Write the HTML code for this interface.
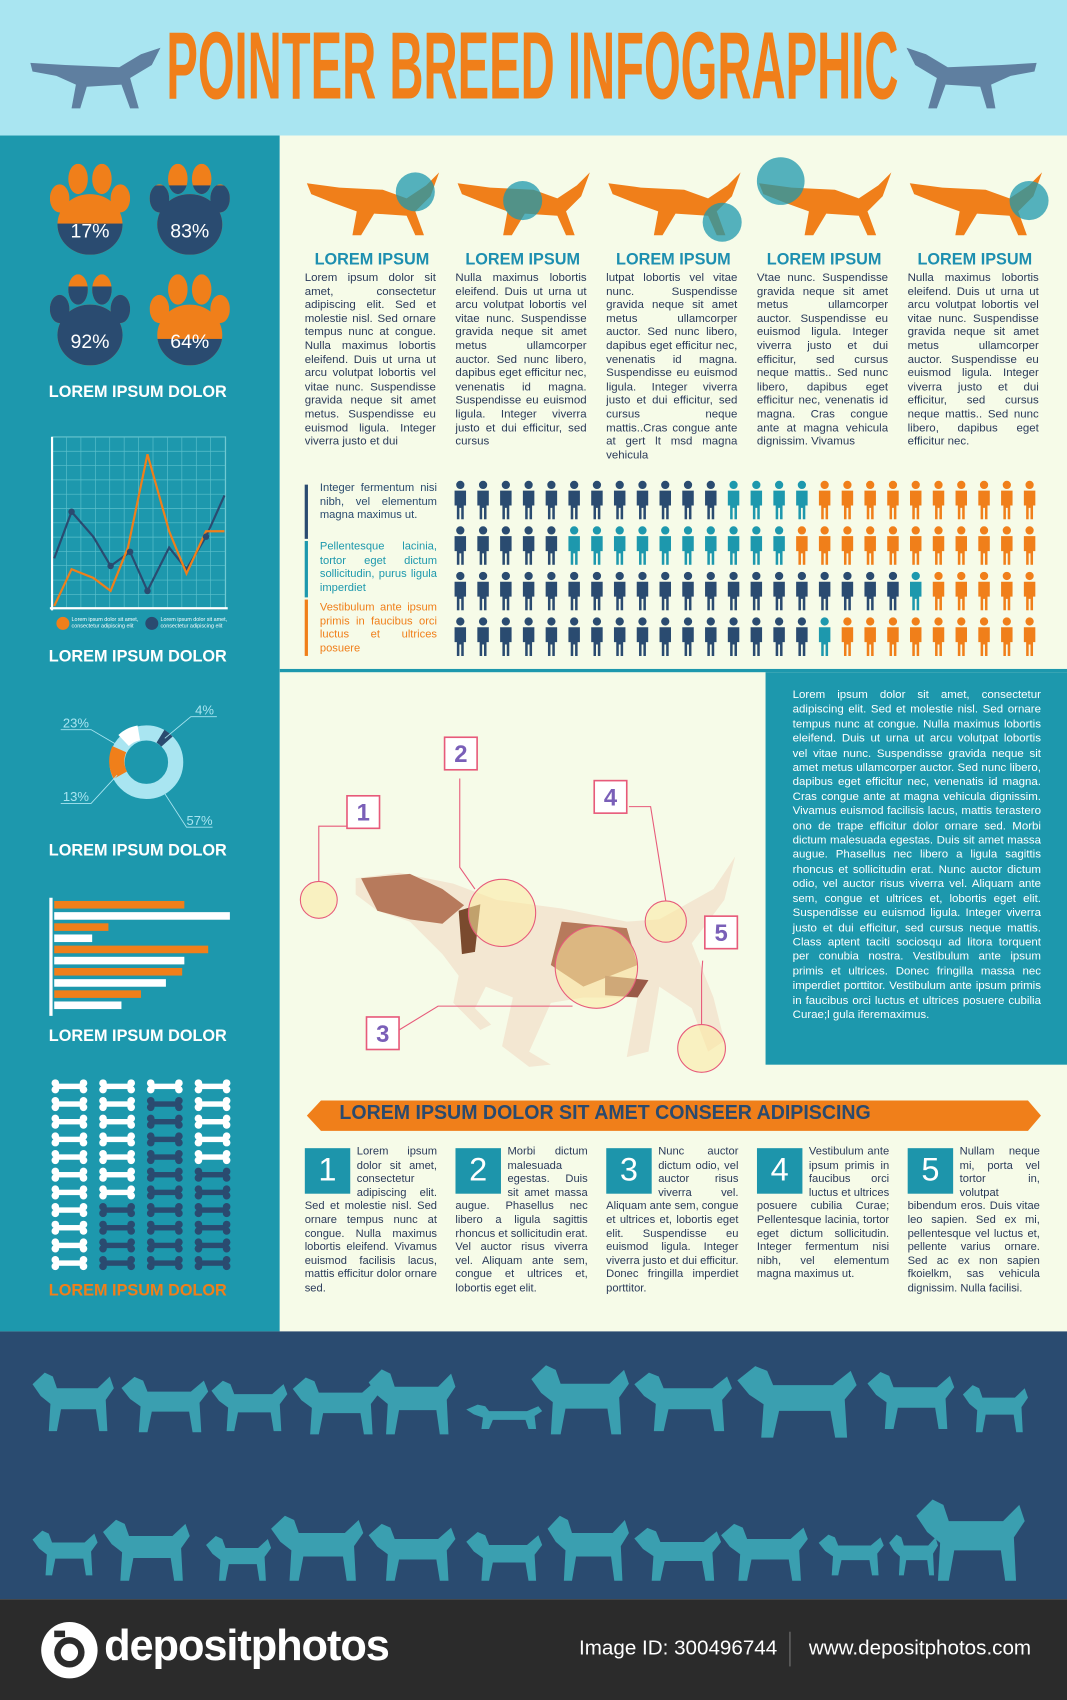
<!DOCTYPE html>
<html><head><meta charset="utf-8"><style>
html,body{margin:0;padding:0;width:1067px;height:1700px;overflow:hidden;background:#fff}
#w{position:absolute;left:0;top:0;width:984px;height:1568px;transform:scale(1.08435,1.0842);transform-origin:0 0;font-family:"Liberation Sans",sans-serif}
.a{position:absolute}
.p{position:absolute;font-size:10.3px;line-height:12.6px;color:#2a3a5a;text-align:justify}
.sl{position:absolute;left:45px;font-size:15px;font-weight:bold;color:#fff;white-space:nowrap}
.num{float:left;width:42px;height:42px;margin:2px 6px 2px 0;background:#1d95ab;color:#fff;font-size:30px;text-align:center;line-height:42px}
</style></head><body><div id="w">
<div class="a" style="left:0;top:0;width:984px;height:125px;background:#a9e5f1"></div>
<div class="a" style="left:-500px;top:10px;width:1984px;text-align:center;white-space:nowrap;font-weight:bold;font-size:88px;color:#f07f1a;transform:scaleX(0.495);transform-origin:990px 0">POINTER BREED INFOGRAPHIC</div>
<svg class="a" style="left:0;top:0" width="984" height="125">
<g fill="#5f7fa0"><path d="M28 58 L60 60 L110 62 L130 50 L148 44 L140 60 L120 72 L128 100 L120 100 L112 78 L80 80 L74 100 L66 100 L70 78 L52 70 L30 66Z"/>
<path d="M956 58 L924 60 L874 62 L854 50 L836 44 L844 60 L864 72 L856 100 L864 100 L872 78 L904 80 L910 100 L918 100 L914 78 L932 70 L954 66Z"/></g></svg>
<div class="a" style="left:0;top:125px;width:258px;height:1103px;background:#1d98ad"></div>
<div class="a" style="left:258px;top:125px;width:726px;height:1103px;background:#f6fbe8"></div>
<div class="a" style="left:258px;top:617px;width:726px;height:3px;background:#1d98ad"></div>
<div class="a" style="left:706px;top:620px;width:278px;height:362px;background:#1d98ad"></div>
<svg class="a" style="left:0;top:125px" width="258" height="1103" id="side"></svg>
<div class="sl" style="top:353px">LOREM IPSUM DOLOR</div>
<div class="sl" style="top:597px">LOREM IPSUM DOLOR</div>
<div class="sl" style="top:776px">LOREM IPSUM DOLOR</div>
<div class="sl" style="top:947px">LOREM IPSUM DOLOR</div>
<div class="sl" style="top:1182px;color:#f07f1a">LOREM IPSUM DOLOR</div>
<svg class="a" style="left:258px;top:125px" width="726" height="1103" id="main"></svg>
<div id="cols"></div>
<div class="p" style="left:295px;top:445px;width:108px;color:#2a4a6e">Integer fermentum nisi nibh, vel elementum magna maximus ut.</div>
<div class="p" style="left:295px;top:499px;width:108px;color:#1d98ad">Pellentesque lacinia, tortor eget dictum sollicitudin, purus ligula imperdiet</div>
<div class="p" style="left:295px;top:555px;width:108px;color:#f07f1a">Vestibulum ante ipsum primis in faucibus orci luctus et ultrices posuere</div>
<div class="p" style="left:731px;top:635px;width:229px;color:#fff;font-size:10.6px;line-height:13.4px">Lorem ipsum dolor sit amet, consectetur adipiscing elit. Sed et molestie nisl. Sed ornare tempus nunc at congue. Nulla maximus lobortis eleifend. Duis ut urna ut arcu volutpat lobortis vel vitae nunc. Suspendisse gravida neque sit amet metus ullamcorper auctor. Sed nunc libero, dapibus eget efficitur nec, venenatis id magna. Cras congue ante at magna vehicula dignissim. Vivamus euismod facilisis lacus, mattis terastero ono de trape efficitur dolor ornare sed. Morbi dictum malesuada egestas. Duis sit amet massa augue. Phasellus nec libero a ligula sagittis rhoncus et sollicitudin erat. Nunc auctor dictum odio, vel auctor risus viverra vel. Aliquam ante sem, congue et ultrices et, lobortis eget elit. Suspendisse eu euismod ligula. Integer viverra justo et dui efficitur, sed cursus neque mattis. Class aptent taciti sociosqu ad litora torquent per conubia nostra. Vestibulum ante ipsum primis et ultrices. Donec fringilla massa nec imperdiet porttitor. Vestibulum ante ipsum primis in faucibus orci luctus et ultrices posuere cubilia Curae;l gula iferemaximus.</div>
<div class="a" style="left:313px;top:1016px;font-size:19px;font-weight:bold;color:#2a4a6e;white-space:nowrap;transform:scaleX(0.95);transform-origin:0 0">LOREM IPSUM DOLOR SIT AMET CONSEER ADIPISCING</div>
<div id="nums"></div>
<div class="a" style="left:0;top:1228px;width:984px;height:247px;background:#2a4b70"></div>
<svg class="a" style="left:0;top:1228px" width="984" height="247" id="dogs"></svg>
<div class="a" style="left:0;top:1475px;width:984px;height:93px;background:#2b2b2b"></div>
<svg class="a" style="left:36px;top:1494px" width="56" height="56"><circle cx="28" cy="28" r="26" fill="#fff"/><circle cx="28" cy="30" r="14" fill="#2b2b2b"/><circle cx="28" cy="30" r="8" fill="#fff"/><rect x="14" y="10" width="10" height="6" fill="#2b2b2b"/></svg>
<div class="a" style="left:96px;top:1496px;font-size:40px;font-weight:bold;color:#fff;letter-spacing:-1px">depositphotos</div>
<div class="a" style="left:534px;top:1510px;font-size:19px;color:#fff">Image ID: 300496744</div>
<div class="a" style="left:728px;top:1505px;width:1px;height:32px;background:#777"></div>
<div class="a" style="left:746px;top:1510px;font-size:19px;color:#fff">www.depositphotos.com</div>
</div>
<script>
function S(svg,html){document.getElementById(svg).insertAdjacentHTML('beforeend',html);}
var paws=[[83,60,"17%",0.35],[175,60,"83%",0.75],[83,162,"92%",0.85],[175,162,"64%",0.3]];
var s="";
paws.forEach(function(p){var x=p[0],y=p[1];
 s+='<clipPath id="c'+x+y+'"><ellipse cx="'+x+'" cy="'+(y+22)+'" rx="30" ry="28"/><ellipse cx="'+(x-28)+'" cy="'+(y-2)+'" rx="9" ry="13"/><ellipse cx="'+(x-11)+'" cy="'+(y-20)+'" rx="9" ry="14"/><ellipse cx="'+(x+11)+'" cy="'+(y-20)+'" rx="9" ry="14"/><ellipse cx="'+(x+28)+'" cy="'+(y-2)+'" rx="9" ry="13"/></clipPath>';
 var tp=y-36, h=88, cut=tp+h*(1-p[3]);
 s+='<g clip-path="url(#c'+x+y+')"><rect x="'+(x-40)+'" y="'+tp+'" width="80" height="'+h+'" fill="#f07f1a"/><rect x="'+(x-40)+'" y="'+cut+'" width="80" height="'+(tp+h-cut)+'" fill="#2a4b70"/></g>';
 s+='<text x="'+x+'" y="'+(y+34)+'" fill="#fff" font-size="18" text-anchor="middle">'+p[2]+'</text>';});
s+='<rect x="48" y="278" width="160" height="158" fill="none" stroke="#7fd0d8"/>';
for(var i=0;i<=12;i++){s+='<line x1="'+(48+i*13.3)+'" y1="278" x2="'+(48+i*13.3)+'" y2="436" stroke="#5cc0cc" stroke-width="0.6"/>';}
for(var i=0;i<=12;i++){s+='<line x1="48" y1="'+(278+i*13.2)+'" x2="208" y2="'+(278+i*13.2)+'" stroke="#5cc0cc" stroke-width="0.6"/>';}
s+='<line x1="48" y1="278" x2="48" y2="438" stroke="#fff" stroke-width="2"/><line x1="46" y1="436" x2="210" y2="436" stroke="#fff" stroke-width="2"/>';
s+='<polyline points="50,390 66,347 86,370 102,397 120,384 136,420 156,380 172,400 190,370 207,332" fill="none" stroke="#2a4b70" stroke-width="2"/>';
s+='<polyline points="50,434 66,400 86,408 102,420 118,380 136,294 156,365 172,404 190,365 207,365" fill="none" stroke="#f07f1a" stroke-width="2"/>';
[[66,347],[102,397],[120,384],[136,420],[190,370]].forEach(function(q){s+='<circle cx="'+q[0]+'" cy="'+q[1]+'" r="3" fill="#2a4b70"/>';});
s+='<circle cx="58" cy="450" r="6" fill="#f07f1a"/><circle cx="140" cy="450" r="6" fill="#2a4b70"/><text x="66" y="448" font-size="5" fill="#fff">Lorem ipsum dolor sit amet,</text><text x="66" y="454" font-size="5" fill="#fff">consectetur adipiscing elit</text><text x="148" y="448" font-size="5" fill="#fff">Lorem ipsum dolor sit amet,</text><text x="148" y="454" font-size="5" fill="#fff">consectetur adipiscing elit</text>';
s+='<circle cx="135" cy="578" r="27" fill="none" stroke="#a9e5f1" stroke-width="14"/>';
s+='<path d="M110 566 A27 27 0 0 0 111 590" fill="none" stroke="#f07f1a" stroke-width="14"/><path d="M114 558 A27 27 0 0 1 128 551" fill="none" stroke="#fff" stroke-width="14"/><path d="M148 554 A27 27 0 0 1 154 559" fill="none" stroke="#2a4b70" stroke-width="14"/>';
s+='<g fill="#a9e5f1" font-size="12"><text x="58" y="546">23%</text><text x="180" y="534">4%</text><text x="58" y="614">13%</text><text x="172" y="636">57%</text></g><g stroke="#a9e5f1" fill="none" stroke-width="0.8"><polyline points="56,548 84,548 108,562"/><polyline points="200,536 176,536 152,556"/><polyline points="56,616 84,616 108,590"/><polyline points="196,638 172,638 150,604"/></g>';
s+='<line x1="47" y1="703" x2="47" y2="812" stroke="#fff" stroke-width="3"/>';
var bars=[[170,"#f07f1a"],[212,"#fff"],[100,"#f07f1a"],[85,"#fff"],[192,"#f07f1a"],[170,"#fff"],[168,"#f07f1a"],[153,"#fff"],[130,"#f07f1a"],[112,"#fff"]];
bars.forEach(function(b,i){s+='<rect x="50" y="'+(706+i*10.3)+'" width="'+(b[0]-50)+'" height="7" fill="'+b[1]+'"/>';});
var bc=[[1,1,1,1,1,1,1,1,1,1,1],[1,1,1,1,1,1,1,0,0,0,0],[1,0,0,0,0,0,0,0,0,0,0],[1,1,1,1,1,0,0,0,0,0,0]];
for(var c=0;c<4;c++)for(var r=0;r<11;r++){var x=48+c*44,y=877+r*16.3,col=bc[c][r]?"#fff":"#2a4b70";
 s+='<g fill="'+col+'"><rect x="'+(x+4)+'" y="'+(y-2.5)+'" width="24" height="5"/><circle cx="'+(x+3)+'" cy="'+(y-3)+'" r="3.5"/><circle cx="'+(x+3)+'" cy="'+(y+3)+'" r="3.5"/><circle cx="'+(x+29)+'" cy="'+(y-3)+'" r="3.5"/><circle cx="'+(x+29)+'" cy="'+(y+3)+'" r="3.5"/></g>';}
S("side",s);
var m="";
for(var k=0;k<5;k++){var ox=25+k*139;
 m+='<path transform="translate('+ox+',0)" d="M0 44 L30 48 L70 50 L92 58 L110 46 L122 34 L114 56 L100 70 L108 92 L100 92 L92 74 L62 72 L50 92 L42 92 L46 70 L24 62 L4 54Z" fill="#f07f1a"/>';
 var cx=[[100,52],[60,60],[105,80],[20,42],[110,60]][k];
 m+='<circle cx="'+(ox+cx[0])+'" cy="'+cx[1]+'" r="'+(k==3?22:18)+'" fill="#1d98ad" opacity="0.75"/>';
 m+='<text x="'+(ox+60)+'" y="119" font-family="Liberation Sans" font-weight="bold" font-size="15" fill="#1d8fb0" text-anchor="middle">LOREM IPSUM</text>';}
m+='<rect x="23" y="322" width="3" height="50" fill="#2a4b70"/><rect x="23" y="374" width="3" height="52" fill="#1d98ad"/><rect x="23" y="428" width="3" height="52" fill="#f07f1a"/>';
var rows=[[12,4],[5,10],[20,1],[16,1]];
m+='<symbol id="pp" viewBox="0 0 12 34"><circle cx="6" cy="4" r="3.6"/><path d="M1 9 H11 V22 H9 V34 H6.8 V24 H5.2 V34 H3 V22 H1Z"/></symbol>';
for(var r=0;r<4;r++)for(var i=0;i<26;i++){var col=i<rows[r][0]?"#2a4b70":(i<rows[r][0]+rows[r][1]?"#1d98ad":"#f07f1a");
 m+='<use href="#pp" x="'+(160+i*21)+'" y="'+(318+r*42)+'" width="13" height="36" fill="'+col+'"/>';}
m+='<g transform="translate(0,495)">';
m+='<path d="M70 190 L110 185 L160 195 L200 210 L260 218 L320 230 L350 228 L400 200 L420 170 L410 210 L380 250 L400 300 L410 340 L395 350 L380 310 L350 290 L340 350 L320 355 L330 300 L280 300 L250 305 L230 350 L250 362 L230 364 L205 345 L215 300 L190 290 L180 310 L195 325 L185 330 L160 305 L165 280 L150 260 L120 230 L90 220 L70 205Z" fill="#f3e7d2"/>';
m+='<path d="M75 190 L120 186 L150 200 L170 215 L150 232 L120 228 L90 220Z" fill="#b77a5c"/><path d="M260 230 L320 236 L330 270 L280 290 L250 270Z" fill="#b77a5c"/><path d="M165 220 L185 214 L180 258 L168 260Z" fill="#7a4a2e"/><path d="M300 280 L340 284 L330 300 L300 298Z" fill="#9a5a48"/>';
m+='<g fill="#fbe9a0" fill-opacity="0.55" stroke="#e75a7a" stroke-width="1"><circle cx="36" cy="210" r="17"/><circle cx="205" cy="222" r="31"/><circle cx="292" cy="272" r="38"/><circle cx="356" cy="230" r="19"/><circle cx="389" cy="347" r="22"/></g>';
m+='<g fill="none" stroke="#e75a7a" stroke-width="1"><polyline points="36,193 36,142 62,142"/><polyline points="180,200 166,180 166,98"/><polyline points="356,211 342,124 322,124"/><polyline points="270,308 146,308 110,330"/><polyline points="389,325 389,280 390,266"/></g>';
m+='<g fill="#fff" stroke="#e75a7a" stroke-width="1.5"><rect x="62" y="114" width="30" height="30"/><rect x="152" y="60" width="30" height="30"/><rect x="290" y="100" width="30" height="30"/><rect x="80" y="318" width="30" height="30"/><rect x="392" y="225" width="30" height="30"/></g>';
m+='<g fill="#7a5fb8" font-size="22" font-weight="bold" font-family="Liberation Sans" text-anchor="middle"><text x="77" y="137">1</text><text x="167" y="83">2</text><text x="305" y="123">4</text><text x="95" y="341">3</text><text x="407" y="248">5</text></g></g>';
m+='<path d="M38 890 L25 904 L38 918 L690 918 L702 904 L690 890Z" fill="#f07f1a"/>';
S("main",m);
var txts=["Lorem ipsum dolor sit amet, consectetur adipiscing elit. Sed et molestie nisl. Sed ornare tempus nunc at congue. Nulla maximus lobortis eleifend. Duis ut urna ut arcu volutpat lobortis vel vitae nunc. Suspendisse gravida neque sit amet metus. Suspendisse eu euismod ligula. Integer viverra justo et dui",
"Nulla maximus lobortis eleifend. Duis ut urna ut arcu volutpat lobortis vel vitae nunc. Suspendisse gravida neque sit amet metus ullamcorper auctor. Sed nunc libero, dapibus eget efficitur nec, venenatis id magna. Suspendisse eu euismod ligula. Integer viverra justo et dui efficitur, sed cursus",
"lutpat lobortis vel vitae nunc. Suspendisse gravida neque sit amet metus ullamcorper auctor. Sed nunc libero, dapibus eget efficitur nec, venenatis id magna. Suspendisse eu euismod ligula. Integer viverra justo et dui efficitur, sed cursus neque mattis..Cras congue ante at gert lt msd magna vehicula",
"Vtae nunc. Suspendisse gravida neque sit amet metus ullamcorper auctor. Suspendisse eu euismod ligula. Integer viverra justo et dui efficitur, sed cursus neque mattis.. Sed nunc libero, dapibus eget efficitur nec, venenatis id magna. Cras congue ante at magna vehicula dignissim. Vivamus",
"Nulla maximus lobortis eleifend. Duis ut urna ut arcu volutpat lobortis vel vitae nunc. Suspendisse gravida neque sit amet metus ullamcorper auctor. Suspendisse eu euismod ligula. Integer viverra justo et dui efficitur, sed cursus neque mattis.. Sed nunc libero, dapibus eget efficitur nec."];
var h="";txts.forEach(function(t,i){h+='<div class="p" style="left:'+(281+i*139)+'px;top:250px;width:121px;height:178px;overflow:hidden;font-size:10.6px">'+t+'</div>';});
document.getElementById("cols").innerHTML=h;
var b=["Lorem ipsum dolor sit amet, consectetur adipiscing elit. Sed et molestie nisl. Sed ornare tempus nunc at congue. Nulla maximus lobortis eleifend. Vivamus euismod facilisis lacus, mattis efficitur dolor ornare sed.",
"Morbi dictum malesuada egestas. Duis sit amet massa augue. Phasellus nec libero a ligula sagittis rhoncus et sollicitudin erat. Vel auctor risus viverra vel. Aliquam ante sem, congue et ultrices et, lobortis eget elit.",
"Nunc auctor dictum odio, vel auctor risus viverra vel. Aliquam ante sem, congue et ultrices et, lobortis eget elit. Suspendisse eu euismod ligula. Integer viverra justo et dui efficitur. Donec fringilla imperdiet porttitor.",
"Vestibulum ante ipsum primis in faucibus orci luctus et ultrices posuere cubilia Curae; Pellentesque lacinia, tortor eget dictum sollicitudin. Integer fermentum nisi nibh, vel elementum magna maximus ut.",
"Nullam neque mi, porta vel tortor in, volutpat bibendum eros. Duis vitae leo sapien. Sed ex mi, pellentesque vel luctus et, pellente varius ornare. Sed ac ex non sapien fkoielkm, sas vehicula dignissim. Nulla facilisi."];
h="";b.forEach(function(t,i){var x=281+i*139;h+='<div class="p" style="left:'+x+'px;top:1057px;width:122px;height:155px;overflow:hidden"><div class="num">'+(i+1)+'</div>'+t+'</div>';});
document.getElementById("nums").innerHTML=h;
var d="";
function dog(x,y,w,hh){return '<path transform="translate('+x+','+y+') scale('+(w/100)+','+(hh/100)+')" d="M0 40 L15 25 L25 30 L30 45 L80 45 L95 30 L100 45 L90 60 L92 100 L82 100 L78 72 L35 72 L30 100 L20 100 L22 65 L10 55Z" fill="#3a9fb0"/>';}
var tdogs=[[30,20,75,72],[112,25,80,68],[195,30,70,62],[270,25,80,70],[340,15,80,80],[430,60,70,30],[490,10,90,85],[585,20,90,72],[680,10,110,88],[800,20,80,70],[888,35,60,58]];
tdogs.forEach(function(a){d+=dog(a[0],a[1],a[2],a[3]);});
var bdogs=[[30,170,60,55],[95,155,80,75],[190,175,60,55],[250,150,85,80],[340,160,80,70],[430,170,70,60],[505,150,75,80],[585,165,80,65],[665,160,80,70],[755,175,60,50],[820,175,45,50],[845,130,100,100]];
bdogs.forEach(function(a){d+=dog(a[0],a[1],a[2],a[3]);});
S("dogs",d);
</script>
</body></html>
